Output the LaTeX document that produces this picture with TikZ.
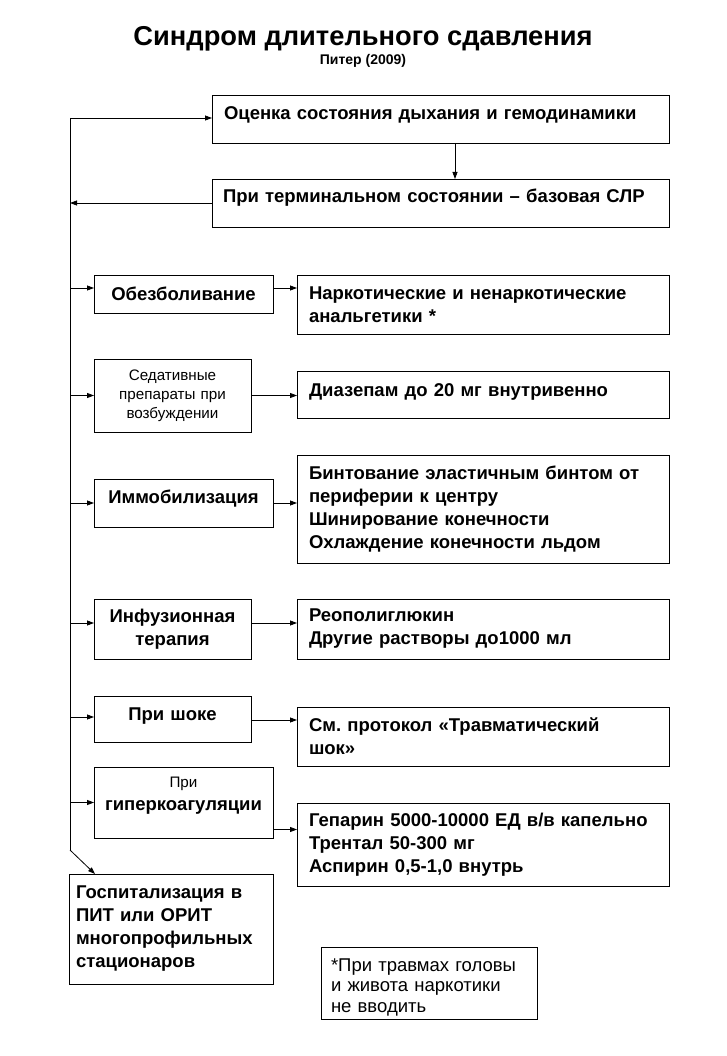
\documentclass[tikz,border=0pt]{standalone}
\usepackage{fontspec}
\setmainfont{Liberation Sans}
\usetikzlibrary{arrows.meta}
\frenchspacing
\begin{document}
\begin{tikzpicture}[x=1pt,y=-1pt,
  box/.style={draw, line width=0.9pt, anchor=north west, outer sep=0pt, inner xsep=12pt, inner ysep=0pt, align=left, font=\fontsize{18.5}{23}\selectfont\bfseries},
  cbox/.style={box, align=center, inner xsep=2pt},
  arr/.style={line width=0.8pt, -{Triangle[length=7pt,width=5pt]}},
  ln/.style={line width=0.8pt}]
\useasboundingbox (0,0) rectangle (726,1056);
\node[font=\fontsize{27.3}{30}\selectfont\bfseries] (title) at (363,39) {Синдром длительного сдавления};
\node[font=\fontsize{14}{16}\selectfont\bfseries] (sub) at (363,61) {Питер (2009)};

\node[box, minimum width=457, minimum height=48, text width=433, text depth=12pt] (b1) at (212,95) {Оценка состояния дыхания и гемодинамики};
\node[box, minimum width=457, minimum height=48, text width=435, inner xsep=11pt, text depth=14pt] (b2) at (212,179) {При терминальном состоянии – базовая СЛР};

\node[cbox, minimum width=179, minimum height=38, text width=175] (obez) at (94,275) {Обезболивание};
\node[box, minimum width=372, minimum height=59, text width=348] (nark) at (297,275) {Наркотические и ненаркотические\\анальгетики *};

\node[cbox, minimum width=157, minimum height=73, text width=153, font=\fontsize{15.2}{19}\selectfont] (sed) at (94,359) {Седативные\\препараты при\\возбуждении};
\node[box, minimum width=372, minimum height=47, text width=348, text depth=8pt] (diaz) at (297,371) {Диазепам до 20 мг внутривенно};

\node[cbox, minimum width=179, minimum height=48, text width=175, text depth=12pt] (imm) at (94,479) {Иммобилизация};
\node[box, minimum width=372, minimum height=108, text width=348] (bint) at (297,455) {Бинтование эластичным бинтом от\\периферии к центру\\Шинирование конечности\\Охлаждение конечности льдом};

\node[cbox, minimum width=157, minimum height=60, text width=153] (inf) at (94,599) {Инфузионная\\терапия};
\node[box, minimum width=372, minimum height=60, text width=348] (reo) at (297,599) {Реополиглюкин\\Другие растворы до1000 мл};

\node[cbox, minimum width=157, minimum height=46, text width=153, text depth=9pt] (shok) at (94,696) {При шоке};
\node[box, minimum width=372, minimum height=59, text width=348] (prot) at (297,707) {См.\ протокол «Травматический\\шок»};

\node[cbox, minimum width=179, minimum height=71, text width=175, text depth=41pt] (hyp) at (94,767) {{\fontsize{15.2}{19}\selectfont\mdseries При}\\гиперкоагуляции};
\node[box, minimum width=372, minimum height=83, text width=348] (hep) at (297,803) {Гепарин 5000-10000 ЕД в/в капельно\\Трентал 50-300 мг\\Аспирин 0,5-1,0 внутрь};

\node[box, minimum width=204, minimum height=110, text width=190, inner xsep=7pt] (hosp) at (69,874) {Госпитализация в\\ПИТ или ОРИТ\\многопрофильных\\стационаров};

\node[box, minimum width=216, minimum height=72, text width=196, inner xsep=10pt, font=\fontsize{18.5}{20.5}\selectfont, text height=21.5pt] (note) at (321,947) {*При травмах головы\\и живота наркотики\\не вводить};

% connectors
\coordinate (top) at (70,118);
\coordinate (bend) at (70,850);
\coordinate (hin) at (95,874);
\draw[ln] (top) -- (bend);
\draw[arr] (bend) -- (hin);
\draw[arr] (top) -- (top -| b1.west);
\draw[arr] (b1.south -| 455,0) -- (b2.north -| 455,0);
\draw[arr] (b2.west) -- (b2.west -| top);

\draw[arr] ([yshift=6]obez.west -| top) -- ([yshift=6]obez.west);
\draw[arr] ([yshift=6]obez.east) -- ([yshift=6]obez.east -| nark.west);
\draw[arr] (sed.west -| top) -- (sed.west);
\draw[arr] (sed.east) -- (sed.east -| diaz.west);
\draw[arr] (imm.west -| top) -- (imm.west);
\draw[arr] (imm.east) -- (imm.east -| bint.west);
\draw[arr] ([yshift=6]inf.west -| top) -- ([yshift=6]inf.west);
\draw[arr] ([yshift=6]inf.east) -- ([yshift=6]inf.east -| reo.west);
\draw[arr] ([yshift=2]shok.west -| top) -- ([yshift=2]shok.west);
\draw[arr] ([yshift=-1]shok.east) -- ([yshift=-1]shok.east -| prot.west);
\draw[arr] (hyp.west -| top) -- (hyp.west);
\draw[arr] ([yshift=-27]hyp.east) -- ([yshift=-27]hyp.east -| hep.west);
\end{tikzpicture}
\end{document}
